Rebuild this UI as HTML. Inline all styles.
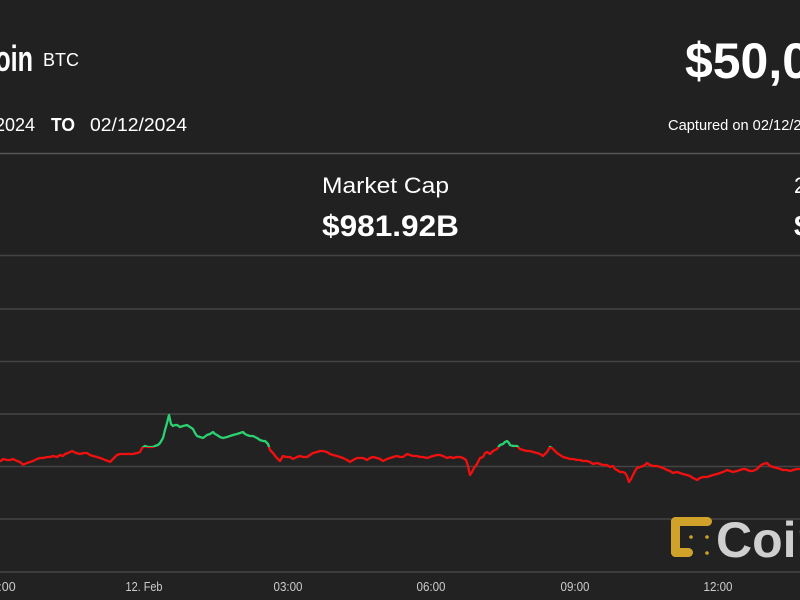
<!DOCTYPE html>
<html>
<head>
<meta charset="utf-8">
<style>
  html,body{margin:0;padding:0;background:#212121;}
  svg{display:block;}
  text{font-family:"Liberation Sans", sans-serif;}
</style>
</head>
<body>
<svg width="800" height="600" viewBox="0 0 800 600" xmlns="http://www.w3.org/2000/svg">
  <rect x="0" y="0" width="800" height="600" fill="#212121"/>
  <rect x="0" y="256" width="800" height="344" fill="#222222"/>

  <!-- Header -->
  <text transform="translate(33,71) scale(0.7,1)" x="0" y="0" font-size="36" font-weight="bold" fill="#ffffff" text-anchor="end">Bitcoin</text>
  <text x="43" y="66" font-size="18" fill="#ffffff" textLength="36" lengthAdjust="spacingAndGlyphs">BTC</text>
  <text x="685" y="78" font-size="50" font-weight="bold" fill="#ffffff" textLength="125" lengthAdjust="spacingAndGlyphs">$50,0</text>

  <text x="35" y="131" font-size="18" fill="#ffffff" text-anchor="end">02/11/2024</text>
  <text x="51" y="131" font-size="18" font-weight="bold" fill="#ffffff" textLength="24" lengthAdjust="spacingAndGlyphs">TO</text>
  <text x="90" y="131" font-size="18" fill="#ffffff" textLength="97" lengthAdjust="spacingAndGlyphs">02/12/2024</text>
  <text x="668" y="130" font-size="15" fill="#ffffff" textLength="158" lengthAdjust="spacingAndGlyphs">Captured on 02/12/2024</text>

  <line x1="0" y1="153.5" x2="800" y2="153.5" stroke="#555" stroke-width="1.5"/>

  <text x="322" y="193" font-size="22" fill="#ffffff" textLength="127" lengthAdjust="spacingAndGlyphs">Market Cap</text>
  <text x="322" y="236" font-size="30" font-weight="bold" fill="#ffffff" textLength="137" lengthAdjust="spacingAndGlyphs">$981.92B</text>
  <text x="794" y="193" font-size="22" fill="#ffffff">24h</text>
  <text x="794" y="236" font-size="30" font-weight="bold" fill="#ffffff">$</text>

  <!-- grid -->
  <g stroke="#444" stroke-width="1.6">
    <line x1="0" y1="255.5" x2="800" y2="255.5"/>
    <line x1="0" y1="309" x2="800" y2="309"/>
    <line x1="0" y1="361.5" x2="800" y2="361.5"/>
    <line x1="0" y1="414" x2="800" y2="414"/>
    <line x1="0" y1="466.5" x2="800" y2="466.5"/>
    <line x1="0" y1="519" x2="800" y2="519"/>
    <line x1="0" y1="572" x2="800" y2="572"/>
  </g>

  <!-- x labels -->
  <g font-size="12.5" fill="#cccccc" text-anchor="middle">
    <text x="0" y="591">00:00</text>
    <text x="144" y="591" textLength="37" lengthAdjust="spacingAndGlyphs">12. Feb</text>
    <text x="288" y="591" textLength="29" lengthAdjust="spacingAndGlyphs">03:00</text>
    <text x="431" y="591" textLength="29" lengthAdjust="spacingAndGlyphs">06:00</text>
    <text x="575" y="591" textLength="29" lengthAdjust="spacingAndGlyphs">09:00</text>
    <text x="718" y="591" textLength="29" lengthAdjust="spacingAndGlyphs">12:00</text>
  </g>

  <!-- logo -->
  <g fill="#d0a22a">
    <rect x="671" y="517" width="41" height="9" rx="4.5"/>
    <rect x="671" y="517" width="9" height="40" rx="4.5"/>
    <rect x="671" y="548" width="22" height="9" rx="4.5"/>
    <circle cx="691" cy="537" r="1.8"/>
    <circle cx="707" cy="537" r="1.8"/>
    <circle cx="707" cy="553" r="1.8"/>
  </g>
  <text x="716" y="557" font-size="50" font-weight="bold" fill="#cfcfcf">Coindesk</text>

  <defs>
    <clipPath id="above"><rect x="0" y="250" width="800" height="197"/></clipPath>
    <clipPath id="below"><rect x="0" y="447" width="800" height="120"/></clipPath>
    <path id="series" fill="none" stroke-width="2.3" stroke-linejoin="round" d="M0,461.7 L3,459 L7,460 L10,460 L13,459 L17,461 L20,462 L23,464.7 L27,463 L30,462 L33,461 L37,459 L40,458 L43,458 L47,457 L50,457 L53,456 L57,457 L60,455 L63,456 L65,454 L68,453 L72,451 L76,453 L80,454 L84,453 L87,453 L90,455 L93,456 L97,457 L100,458 L103,459 L105,460 L108,461 L110,462 L113,459 L117,455 L120,454 L123,454 L127,454 L130,454 L133,454 L137,453 L140,452 L142,448 L145,446 L148,447 L150,447 L153,447 L155,446 L158,445 L160,443 L163,438 L165,430 L167,423 L169,415 L171,424 L173,426 L175,425 L177,425 L180,427 L183,426 L187,425 L190,427 L193,429 L195,433 L197,436 L200,437 L203,438 L207,435 L210,434 L213,432 L215,434 L217,435 L220,437 L223,438 L227,437 L230,436 L233,435 L237,434 L240,433 L243,432 L245,434 L247,435 L250,436 L253,436 L257,438 L260,440 L263,441 L265,441 L268,444 L270,450 L273,453 L276,457 L278,459 L280,461 L283,456 L286,457 L290,457 L293,459 L297,457 L300,456 L303,457 L307,457 L310,455 L313,453 L317,452 L320,451 L323,451 L327,452 L330,454 L333,455 L337,456 L340,457 L343,458 L347,460 L350,462 L353,460 L357,458 L360,458 L363,458 L367,460 L370,458 L373,457 L377,458 L380,459 L383,461 L387,459 L390,458 L393,457 L397,456 L400,457 L403,457 L407,454 L410,455 L413,456 L417,456 L420,457 L423,457 L427,458 L430,457 L433,456 L437,455 L440,455 L443,456 L447,458 L450,457 L453,458 L457,457 L460,457 L463,458 L466,460 L468,466 L470,475 L472,472 L474,468 L477,464 L480,458 L483,457 L485,453 L487,452 L490,454 L493,451 L497,449 L500,445 L503,444 L505,442 L507,441 L509,443 L510,445 L513,446 L517,446 L520,449 L523,450 L527,451 L530,451 L533,452 L537,453 L540,454 L543,456 L547,452 L550,447 L552,448 L554,450 L557,453 L560,455 L563,457 L567,458 L570,459 L573,459 L577,460 L580,460 L583,461 L587,461 L590,462 L593,464 L597,463 L600,464 L603,465 L607,465 L610,467 L613,466 L615,469 L617,470 L620,472 L623,472 L625,473 L627,476 L629,482 L631,479 L633,475 L635,471 L637,468 L640,467 L643,466 L645,465 L647,463 L650,465 L653,466 L657,466 L660,467 L663,468 L667,470 L670,471 L673,473 L677,472 L680,473 L683,474 L687,475 L690,476 L693,478 L697,480 L700,478 L703,477 L707,477 L710,476 L713,475 L717,474 L720,473 L723,472 L727,470 L730,471 L733,472 L737,471 L740,470 L743,469 L745,469 L750,471 L753,471 L757,469 L760,466 L763,464 L767,463 L770,466 L773,467 L777,468 L780,469 L783,470 L787,470 L790,471 L793,470 L797,469 L800,469"/>
  </defs>
  <use href="#series" stroke="#2bd170" clip-path="url(#above)"/>
  <use href="#series" stroke="#f01010" clip-path="url(#below)"/>
</svg>
</body>
</html>
